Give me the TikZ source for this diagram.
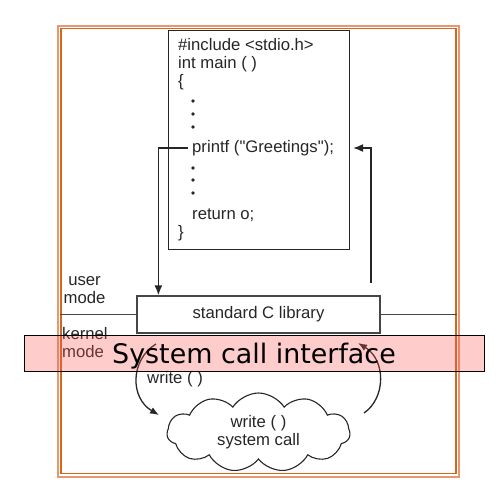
\documentclass[tikz,border=0pt]{standalone}
\usepackage{fontspec}
\setmainfont{Liberation Sans}[Ligatures=TeXOff]
\newfontfamily\bandfont{DejaVu Sans}
\usetikzlibrary{arrows.meta,positioning,shapes.symbols}
\definecolor{frameLight}{RGB}{232,152,112}
\definecolor{frameDark}{RGB}{212,104,24}
\definecolor{inkGray}{RGB}{38,38,38}
\definecolor{boxGray}{RGB}{70,70,70}
\definecolor{bandPink}{RGB}{255,85,85}
\newcommand{\codefont}{\fontsize{16.7}{18}\selectfont}
\tikzset{
  frameout/.style={draw=frameLight, line width=2pt, minimum width=401, minimum height=450.5, inner sep=0},
  framein/.style={draw=frameDark, line width=1.6pt, minimum width=395, minimum height=445, inner sep=0},
  codebox/.style={draw=inkGray, line width=1pt, minimum width=181, minimum height=219, inner sep=0},
  code/.style={anchor=base west, inner sep=0, font=\codefont, text=inkGray},
  libbox/.style={draw=boxGray, line width=1.2pt, minimum width=243, minimum height=37, inner sep=0, font=\codefont, text=inkGray},
  modelabel/.style={inner sep=0, font=\codefont, text=inkGray},
  sep/.style={draw=boxGray, line width=1.1pt},
  arrow/.style={-{Latex[length=10pt,width=8pt]}, line width=1.7pt, draw=inkGray},
  callarrow/.style={-{Latex[length=9pt,width=7pt]}, line width=1.3pt, draw=inkGray},
  syscloud/.style={cloud, cloud puffs=11, cloud puff arc=115, aspect=2.3, draw=inkGray, line width=1.1pt, minimum width=183, minimum height=79, inner sep=0, align=center, font=\codefont, text=inkGray},
  band/.style={draw=black, line width=0.8pt, fill=bandPink, fill opacity=0.3, minimum width=460, minimum height=36, inner sep=0}
}

\begin{document}
\begin{tikzpicture}[x=1pt,y=-1pt]
  \useasboundingbox (0,0) rectangle (504,504);

  % page frame
  \node[frameout] (frameo) at (258.5,251.25) {};
  \node[framein] (frame) at (258.5,251) {};

  % program
  \node[codebox] (prog) at (258.5,139.5) {};
  \node[code] (inc) at (178,50.5) {\#include <stdio.h>};
  \node[code] (main) at (178,68.5) {int main ( )};
  \node[code] (open) at (178,86.5) {\{};
  \node[code] (printf) at (192,152.5) {printf ("Greetings");};
  \node[code] (ret) at (192,219.5) {return o;};
  \node[code] (close) at (178,237.5) {\}};
  \foreach \y in {101,114,127,168,180,193}
    \fill[inkGray] (193,\y) circle (1.9);

  % library and mode split
  \node[libbox] (clib) at (258.5,314.5) {standard C library};
  \draw[sep] (clib.west) -- (clib.west -| frame.west);
  \draw[sep] (clib.east) -- (clib.east -| frame.east);
  \node[modelabel, align=center] (user) at (84.5,290) {user\\mode};
  \node[modelabel, align=left, anchor=west] (kernel) at (62,343) {kernel\\mode};

  \coordinate (retstart) at (371,283);
  \coordinate (retend) at (353,148);
  \draw[arrow] ([xshift=-4]printf.west) -| ([xshift=22]clib.north west);
  \draw[arrow] (retstart) |- (retend);

  % system call
  \node[syscloud] (call) at (258.5,432.5) {write ( )\\system call};
  \node[code] (callname) at (147,383.5) {write ( )};
  \coordinate (callin) at (156,344);
  \coordinate (callout) at (364,413);
  \draw[callarrow] (callin) .. controls (130,360) and (130,398) .. (159,415);
  \draw[callarrow] (callout) .. controls (386,398) and (386,360) .. (358,343);

  % interface band
  \node[band] (sysband) at (254,353) {};
  \node[anchor=base, inner sep=0, font=\bandfont\fontsize{26.9}{30}\selectfont] (sci) at (254,363.3) {System call interface};
\end{tikzpicture}
\end{document}
